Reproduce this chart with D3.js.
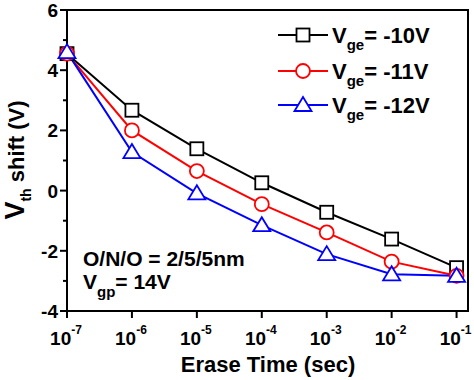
<!DOCTYPE html>
<html>
<head>
<meta charset="utf-8">
<script src="https://cdn.jsdelivr.net/npm/d3@7"></script>
<style>
  body { margin: 0; background: #fff; }
  text { font-family: "Liberation Sans", Arial, sans-serif; font-weight: bold; fill: #000; }
</style>
</head>
<body>
<div id="chart"></div>
<script>
// erase times (sec) and Vth shift per gate erase voltage
var times = [1e-7, 1e-6, 1e-5, 1e-4, 1e-3, 1e-2, 1e-1];
var vge10 = [4.55, 2.67, 1.39, 0.26, -0.72, -1.61, -2.56];
var vge11 = [4.55, 2.0, 0.65, -0.45, -1.39, -2.36, -2.83];
var vge12 = [4.6, 1.28, -0.09, -1.15, -2.11, -2.78, -2.83];
var seriesNames = ["-10V", "-11V", "-12V"];
var yTicks = [-4, -2, 0, 2, 4, 6];
var yMinor = [-3, -1, 1, 3, 5];
var xExp = [-7, -6, -5, -4, -3, -2, -1];

var svgWidth = 474, svgHeight = 380;
var margin = { top: 10, right: 6, bottom: 69, left: 67 };
var chartWidth = svgWidth - margin.left - margin.right;
var chartHeight = svgHeight - margin.top - margin.bottom;

var svg = d3.select("#chart").append("svg")
  .attr("width", svgWidth)
  .attr("height", svgHeight);

var chartGroup = svg.append("g")
  .attr("transform", `translate(${margin.left}, ${margin.top})`);

var xScale = d3.scaleLog()
  .domain([1e-7, 1.5e-1])
  .range([0, chartWidth]);
var yScale = d3.scaleLinear()
  .domain([-4, 6])
  .range([chartHeight, 0]);

// frame
chartGroup.append("rect")
  .attr("width", chartWidth)
  .attr("height", chartHeight)
  .attr("fill", "none")
  .attr("stroke", "#000")
  .attr("stroke-width", 2);

// x axis ticks (outward) and labels with superscripts
var xAxisG = chartGroup.append("g").attr("transform", `translate(0,${chartHeight})`);
xAxisG.selectAll("line").data(xExp).enter().append("line")
  .attr("x1", d => xScale(Math.pow(10, d))).attr("x2", d => xScale(Math.pow(10, d)))
  .attr("y1", 0).attr("y2", 7)
  .attr("stroke", "#000").attr("stroke-width", 2);
var xLab = xAxisG.selectAll(".xlab").data(xExp).enter().append("text")
  .attr("class", "xlab")
  .attr("x", d => xScale(Math.pow(10, d)) - 1)
  .attr("y", 34)
  .attr("text-anchor", "middle")
  .style("font-size", "19px");
xLab.append("tspan").text("10");
xLab.append("tspan").attr("dy", -11).style("font-size", "12px").text(d => d);

// y axis ticks
var yAxisG = chartGroup.append("g");
yAxisG.selectAll(".maj").data(yTicks).enter().append("line")
  .attr("x1", -7).attr("x2", 0)
  .attr("y1", d => yScale(d)).attr("y2", d => yScale(d))
  .attr("stroke", "#000").attr("stroke-width", 2);
yAxisG.selectAll(".min").data(yMinor).enter().append("line")
  .attr("x1", -4).attr("x2", 0)
  .attr("y1", d => yScale(d)).attr("y2", d => yScale(d))
  .attr("stroke", "#000").attr("stroke-width", 2);
yAxisG.selectAll("text").data(yTicks).enter().append("text")
  .attr("x", -9)
  .attr("y", d => yScale(d) + 7)
  .attr("text-anchor", "end")
  .style("font-size", "19px")
  .text(d => d);

// axis titles
svg.append("text")
  .attr("x", 268).attr("y", 372)
  .attr("text-anchor", "middle")
  .style("font-size", "22px")
  .text("Erase Time (sec)");

var yTitle = svg.append("text")
  .attr("transform", "translate(24,160) rotate(-90)")
  .attr("text-anchor", "middle")
  .style("font-size", "22px");
yTitle.append("tspan").style("font-size", "27px").text("V");
yTitle.append("tspan").attr("dy", 7).style("font-size", "14px").text("th");
yTitle.append("tspan").attr("dy", -7).text(" shift (V)");

// series
var series = [
  { name: seriesNames[0], values: vge10, color: "#000", shape: "square" },
  { name: seriesNames[1], values: vge11, color: "#f00", shape: "circle" },
  { name: seriesNames[2], values: vge12, color: "#00f", shape: "triangle" }
];

var line = d3.line()
  .x((d, i) => xScale(times[i]))
  .y(d => yScale(d));

function drawMarker(g, shape, color) {
  if (shape === "square") {
    g.append("rect").attr("x", -6.5).attr("y", -6.5).attr("width", 13).attr("height", 13)
      .attr("fill", "#fff").attr("stroke", color).attr("stroke-width", 1.8);
  } else if (shape === "circle") {
    g.append("circle").attr("r", 7)
      .attr("fill", "#fff").attr("stroke", color).attr("stroke-width", 1.8);
  } else {
    g.append("path").attr("d", "M0,-8L8.5,6L-8.5,6Z")
      .attr("fill", "#fff").attr("stroke", color).attr("stroke-width", 1.8);
  }
}

series.forEach(function (s) {
  chartGroup.append("path")
    .datum(s.values)
    .attr("d", line)
    .attr("fill", "none")
    .attr("stroke", s.color)
    .attr("stroke-width", 2);
});
series.forEach(function (s) {
  s.values.forEach(function (v, i) {
    var g = chartGroup.append("g")
      .attr("transform", `translate(${xScale(times[i])},${yScale(v)})`);
    drawMarker(g, s.shape, s.color);
  });
});

// legend
var legendY = [35, 71, 105];
series.forEach(function (s, i) {
  var lg = svg.append("g").attr("transform", `translate(278,${legendY[i]})`);
  lg.append("line").attr("x1", 0).attr("x2", 50).attr("y1", 0).attr("y2", 0)
    .attr("stroke", s.color).attr("stroke-width", 2);
  var mg = lg.append("g").attr("transform", "translate(25,0)");
  drawMarker(mg, s.shape, s.color);
  var t = lg.append("text").attr("x", 54).attr("y", 8).style("font-size", "22px");
  t.append("tspan").text("V");
  t.append("tspan").attr("dy", 7).style("font-size", "15px").text("ge");
  t.append("tspan").attr("dy", -7).text("= " + s.name);
});

// annotation
svg.append("text").attr("x", 83).attr("y", 266).style("font-size", "21px")
  .text("O/N/O = 2/5/5nm");
var ann = svg.append("text").attr("x", 83).attr("y", 289).style("font-size", "21px");
ann.append("tspan").text("V");
ann.append("tspan").attr("dy", 8).style("font-size", "15px").text("gp");
ann.append("tspan").attr("dy", -8).text("= 14V");
</script>
</body>
</html>
